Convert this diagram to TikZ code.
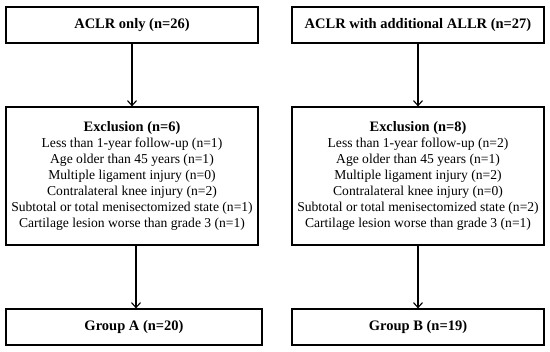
\documentclass[tikz,border=0pt]{standalone}
\usepackage{fontspec}
\setmainfont{Liberation Serif}
\usetikzlibrary{arrows.meta}
\begin{document}
\begin{tikzpicture}[x=1pt,y=1pt,
  box/.style={draw,line width=1.2pt,inner sep=0pt,anchor=center},
  flow/.style={line width=1.1pt,-{Straight Barb[length=5pt,width=9pt,line width=1.1pt]}},
  ttl/.style={font=\fontsize{14.5}{16}\selectfont\bfseries},
  body/.style={font=\fontsize{13.6}{16}\selectfont,align=center}]
\useasboundingbox (0,0) rectangle (550,352);
\node[box,minimum width=252pt,minimum height=36pt,ttl] (a1) at (132,327) {ACLR only (n=26)};
\node[box,minimum width=252pt,minimum height=36pt,ttl] (b1) at (418,327) {ACLR with additional ALLR (n=27)};
\node[box,minimum width=252pt,minimum height=138pt,body] (a2) at (132,176) {\textbf{\fontsize{14.4}{16}\selectfont Exclusion (n=6)}\\Less than 1-year follow-up (n=1)\\Age older than 45 years (n=1)\\Multiple ligament injury (n=0)\\Contralateral knee injury (n=2)\\Subtotal or total menisectomized state (n=1)\\Cartilage lesion worse than grade 3 (n=1)};
\node[box,minimum width=252pt,minimum height=138pt,body] (b2) at (418,176) {\textbf{\fontsize{14.4}{16}\selectfont Exclusion (n=8)}\\Less than 1-year follow-up (n=2)\\Age older than 45 years (n=1)\\Multiple ligament injury (n=2)\\Contralateral knee injury (n=0)\\Subtotal or total menisectomized state (n=2)\\Cartilage lesion worse than grade 3 (n=1)};
\node[box,minimum width=256pt,minimum height=36pt,ttl] (a3) at (134,25) {Group A (n=20)};
\node[box,minimum width=252pt,minimum height=36pt,ttl] (b3) at (418,25) {Group B (n=19)};
\draw[flow] (a1.south) -- (a2.north);
\draw[flow] (b1.south) -- (b2.north);
\draw[flow] ([xshift=4pt]a2.south) -- ([xshift=2pt]a3.north);
\draw[flow] (b2.south) -- (b3.north);
\end{tikzpicture}
\end{document}
